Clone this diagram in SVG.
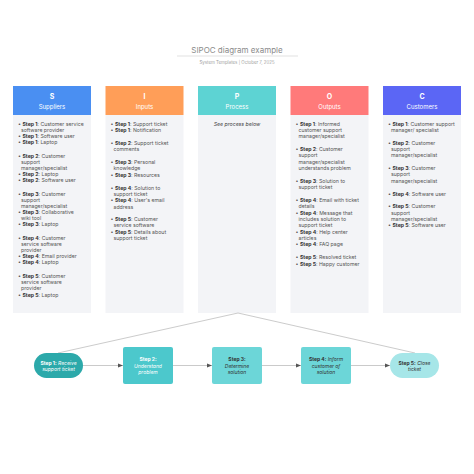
<svg xmlns="http://www.w3.org/2000/svg" width="474" height="474" viewBox="0 0 474 474">
<defs>
<marker id="ah" markerWidth="6" markerHeight="6" refX="5" refY="3" orient="auto" markerUnits="userSpaceOnUse">
<path d="M0,1 L5,3 L0,5 Z" fill="#555"/>
</marker>
</defs>
<style>
text{font-family:Inter,"Liberation Sans",sans-serif}
.body{fill:#F3F4F7}
.hl{font-size:7px;font-weight:700;fill:#fff;text-anchor:middle}
.hn{font-size:6px;fill:#fff;text-anchor:middle}
.t{font-size:5.2px;fill:#555}
.b{font-weight:700;fill:#333}
.fl{font-size:5px;text-anchor:middle}
.fw{fill:#fff}
.fd{fill:#333}
.i{font-style:italic}
.conn{stroke:#BDBDBD;stroke-width:0.8;fill:none}
.tri{stroke:#A8A8A8;stroke-width:0.6;fill:none}
</style>
<rect width="474" height="474" fill="#fff"/>
<g id="title">
<text x="237" y="53" font-size="8" fill="#8A8A8A" text-anchor="middle">SIPOC diagram example</text>
<line x1="177" y1="56" x2="298" y2="56" stroke="#CFCFCF" stroke-width="0.6"/>
<text x="237" y="64" font-size="4.4" fill="#A0A0A0" text-anchor="middle">System Templates  |  October 7, 2025</text>
</g>

<g id="col-s">
<rect class="body" x="13" y="115" width="78" height="198"/>
<rect x="13" y="86" width="78" height="29" fill="#4A8FF2"/>
<text class="hl" x="52" y="99">S</text>
<text class="hn" x="52" y="108.5">Suppliers</text>
<g class="t">
<text x="18" y="126">• <tspan class="b">Step 1</tspan>: Customer service</text>
<text x="21" y="132">software provider</text>
<text x="18" y="138">• <tspan class="b">Step 1</tspan>: Software user</text>
<text x="18" y="144">• <tspan class="b">Step 1</tspan>: Laptop</text>
<text x="18" y="157.5">• <tspan class="b">Step 2</tspan>: Customer</text>
<text x="21" y="163.5">support</text>
<text x="21" y="169.5">manager/specialist</text>
<text x="18" y="175.5">• <tspan class="b">Step 2</tspan>: Laptop</text>
<text x="18" y="182">• <tspan class="b">Step 2</tspan>: Software user</text>
<text x="18" y="195.5">• <tspan class="b">Step 3</tspan>: Customer</text>
<text x="21" y="201.5">support</text>
<text x="21" y="207.5">manager/specialist</text>
<text x="18" y="213.5">• <tspan class="b">Step 3</tspan>: Collaborative</text>
<text x="21" y="219.5">wiki tool</text>
<text x="18" y="226">• <tspan class="b">Step 3</tspan>: Laptop</text>
<text x="18" y="239.5">• <tspan class="b">Step 4</tspan>: Customer</text>
<text x="21" y="245.5">service software</text>
<text x="21" y="251.5">provider</text>
<text x="18" y="258">• <tspan class="b">Step 4</tspan>: Email provider</text>
<text x="18" y="264">• <tspan class="b">Step 4</tspan>: Laptop</text>
<text x="18" y="278">• <tspan class="b">Step 5</tspan>: Customer</text>
<text x="21" y="284">service software</text>
<text x="21" y="290">provider</text>
<text x="18" y="296.5">• <tspan class="b">Step 5</tspan>: Laptop</text>
</g>
</g>

<g id="col-i">
<rect class="body" x="105.5" y="115" width="78" height="198"/>
<rect x="105.5" y="86" width="78" height="29" fill="#FF9E58"/>
<text class="hl" x="144.5" y="99">I</text>
<text class="hn" x="144.5" y="108.5">Inputs</text>
<g class="t">
<text x="110.5" y="126">• <tspan class="b">Step 1</tspan>: Support ticket</text>
<text x="110.5" y="132">• <tspan class="b">Step 1</tspan>: Notification</text>
<text x="110.5" y="145">• <tspan class="b">Step 2</tspan>: Support ticket</text>
<text x="113.5" y="151">comments</text>
<text x="110.5" y="164">• <tspan class="b">Step 3</tspan>: Personal</text>
<text x="113.5" y="170">knowledge</text>
<text x="110.5" y="176.5">• <tspan class="b">Step 3</tspan>: Resources</text>
<text x="110.5" y="189.5">• <tspan class="b">Step 4</tspan>: Solution to</text>
<text x="113.5" y="195.5">support ticket</text>
<text x="110.5" y="202">• <tspan class="b">Step 4</tspan>: User's email</text>
<text x="113.5" y="208.5">address</text>
<text x="110.5" y="221">• <tspan class="b">Step 5</tspan>: Customer</text>
<text x="113.5" y="227">service software</text>
<text x="110.5" y="233.5">• <tspan class="b">Step 5</tspan>: Details about</text>
<text x="113.5" y="240">support ticket</text>
</g>
</g>

<g id="col-p">
<rect class="body" x="198" y="115" width="78" height="198"/>
<rect x="198" y="86" width="78" height="29" fill="#5DD3D3"/>
<text class="hl" x="237" y="99">P</text>
<text class="hn" x="237" y="108.5">Process</text>
<text x="237" y="126" font-size="5.2" font-style="italic" fill="#444" text-anchor="middle">See process below</text>
</g>

<g id="col-o">
<rect class="body" x="290.5" y="115" width="78" height="198"/>
<rect x="290.5" y="86" width="78" height="29" fill="#FF7A7A"/>
<text class="hl" x="329.5" y="99">O</text>
<text class="hn" x="329.5" y="108.5">Outputs</text>
<g class="t">
<text x="295.5" y="126">• <tspan class="b">Step 1</tspan>: Informed</text>
<text x="298.5" y="132">customer support</text>
<text x="298.5" y="138">manager/specialist</text>
<text x="295.5" y="151">• <tspan class="b">Step 2</tspan>: Customer</text>
<text x="298.5" y="157">support</text>
<text x="298.5" y="163.5">manager/specialist</text>
<text x="298.5" y="169.5">understands problem</text>
<text x="295.5" y="182.5">• <tspan class="b">Step 3</tspan>: Solution to</text>
<text x="298.5" y="189">support ticket</text>
<text x="295.5" y="201.5">• <tspan class="b">Step 4</tspan>: Email with ticket</text>
<text x="298.5" y="208">details</text>
<text x="295.5" y="214.5">• <tspan class="b">Step 4</tspan>: Message that</text>
<text x="298.5" y="220.5">includes solution to</text>
<text x="298.5" y="227">support ticket</text>
<text x="295.5" y="233.5">• <tspan class="b">Step 4</tspan>: Help center</text>
<text x="298.5" y="239.5">articles</text>
<text x="295.5" y="246">• <tspan class="b">Step 4</tspan>: FAQ page</text>
<text x="295.5" y="259">• <tspan class="b">Step 5</tspan>: Resolved ticket</text>
<text x="295.5" y="265.5">• <tspan class="b">Step 5</tspan>: Happy customer</text>
</g>
</g>

<g id="col-c">
<rect class="body" x="383" y="115" width="78" height="198"/>
<rect x="383" y="86" width="78" height="29" fill="#5B66F5"/>
<text class="hl" x="422" y="99">C</text>
<text class="hn" x="422" y="108.5">Customers</text>
<g class="t">
<text x="388" y="126">• <tspan class="b">Step 1</tspan>: Customer support</text>
<text x="391" y="132">manager/ specialist</text>
<text x="388" y="144.5">• <tspan class="b">Step 2</tspan>: Customer</text>
<text x="391" y="151">support</text>
<text x="391" y="157">manager/specialist</text>
<text x="388" y="170">• <tspan class="b">Step 3</tspan>: Customer</text>
<text x="391" y="176">support</text>
<text x="391" y="182.5">manager/specialist</text>
<text x="388" y="195.5">• <tspan class="b">Step 4</tspan>: Software user</text>
<text x="388" y="208">• <tspan class="b">Step 5</tspan>: Customer</text>
<text x="391" y="214.5">support</text>
<text x="391" y="220.5">manager/specialist</text>
<text x="388" y="227">• <tspan class="b">Step 5</tspan>: Software user</text>
</g>
</g>

<g id="connectors">
<polyline class="tri" points="58,353 238,313 415,353"/>
<line class="conn" x1="83" y1="365.5" x2="123" y2="365.5" marker-end="url(#ah)"/>
<line class="conn" x1="173" y1="365.5" x2="212" y2="365.5" marker-end="url(#ah)"/>
<line class="conn" x1="262" y1="365.5" x2="301" y2="365.5" marker-end="url(#ah)"/>
<line class="conn" x1="351" y1="365.5" x2="390" y2="365.5" marker-end="url(#ah)"/>
</g>

<g id="step1">
<rect x="34" y="353" width="49" height="25" rx="12.5" fill="#2CA9AA"/>
<text class="fl fw" x="58.5" y="364.5"><tspan font-weight="700">Step 1:</tspan> <tspan class="i">Receive</tspan></text>
<text class="fl fw i" x="58.5" y="371">support ticket</text>
</g>
<g id="step2">
<rect x="123" y="347" width="50" height="37" rx="2" fill="#4CC8CC"/>
<text class="fl fw" x="148" y="361" font-weight="700">Step 2:</text>
<text class="fl fw i" x="148" y="367.5">Understand</text>
<text class="fl fw i" x="148" y="374">problem</text>
</g>
<g id="step3">
<rect x="212" y="347" width="50" height="37" rx="2" fill="#6CD6D8"/>
<text class="fl fd" x="237" y="361" font-weight="700">Step 3:</text>
<text class="fl fd i" x="237" y="367.5">Determine</text>
<text class="fl fd i" x="237" y="374">solution</text>
</g>
<g id="step4">
<rect x="301" y="347" width="50" height="37" rx="2" fill="#6CD6D8"/>
<text class="fl fd" x="326" y="361"><tspan font-weight="700">Step 4:</tspan> <tspan class="i">Inform</tspan></text>
<text class="fl fd i" x="326" y="367.5">customer of</text>
<text class="fl fd i" x="326" y="374">solution</text>
</g>
<g id="step5">
<rect x="390" y="353" width="49" height="25" rx="12.5" fill="#A6E6E8"/>
<text class="fl fd" x="414.5" y="364.5"><tspan font-weight="700">Step 5:</tspan> <tspan class="i">Close</tspan></text>
<text class="fl fd i" x="414.5" y="371">ticket</text>
</g>
</svg>
